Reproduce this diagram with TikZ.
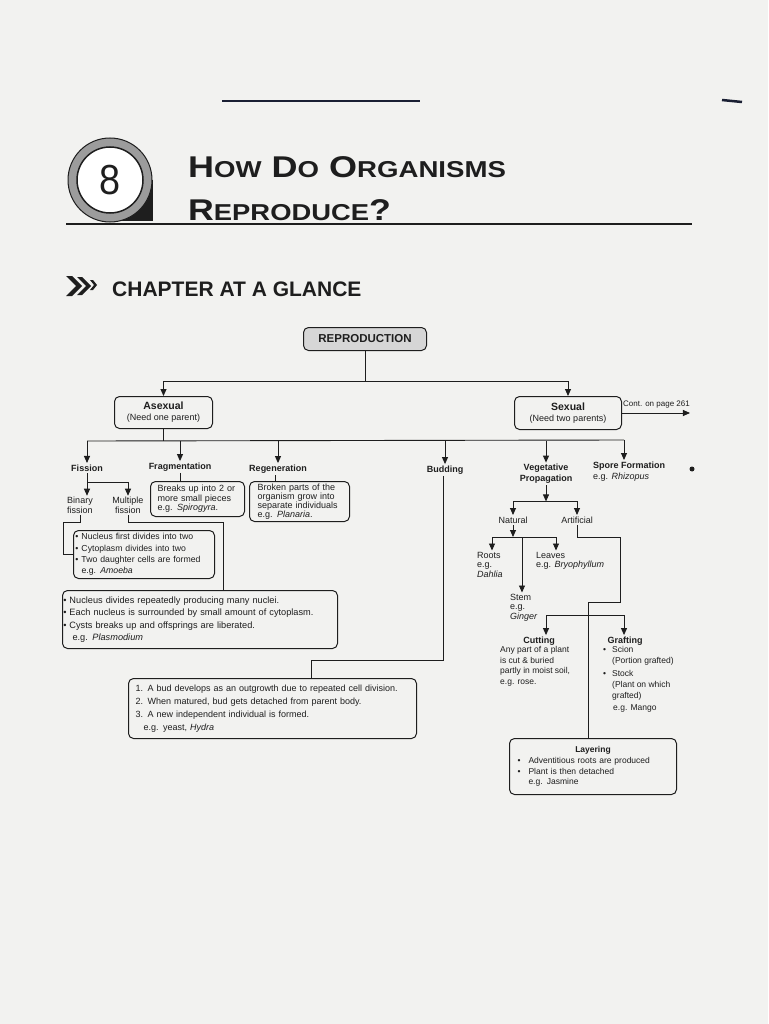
\documentclass[tikz,border=0pt]{standalone}
\usepackage{fontspec}
\setmainfont{Liberation Sans}
\usepackage{graphicx}
\usetikzlibrary{arrows.meta}
\definecolor{bg}{HTML}{F2F2F0}
\definecolor{ink}{HTML}{1E1E1E}
\definecolor{ringgray}{HTML}{9C9C9C}
\definecolor{rbox}{HTML}{D6D6D6}
\definecolor{scan}{HTML}{1A1F33}
\newcommand{\tS}[1]{{\fontsize{23}{23}\selectfont #1}}
\newcommand{\bul}[1][3pt]{\leavevmode\llap{\textbullet\hspace{#1}}}
\begin{document}
\begin{tikzpicture}[x=1pt,y=-1pt,
  every node/.style={inner sep=0pt, text=ink},
  txt/.style={font=\fontsize{9}{9.5}\selectfont, inner sep=1.5pt},
  hd/.style={font=\bfseries\fontsize{9}{11}\selectfont, inner sep=1.5pt},
  cbox/.style={draw=ink, line width=1pt, rounded corners=5pt, anchor=north west, align=left, font=\fontsize{9}{9.5}\selectfont},
  conn/.style={draw=ink, line width=0.9pt},
  arr/.style={conn, -{Triangle[length=7pt,width=6pt]}},
]
\fill[bg] (0,0) rectangle (768,1024);
\path[use as bounding box] (0,0) rectangle (768,1024);

% scan edge marks
\draw[scan, line width=2.5pt] (222,101) -- (420,101);
\draw[scan, line width=2.5pt] (722,100) -- (742,102);

% badge
\coordinate (bc) at (110,180);
\fill[ink] (bc) rectangle (153,221);
\draw[ink, line width=1pt, fill=ringgray] (bc) circle[radius=42pt];
\draw[ink, line width=1.5pt, fill=white] (bc) circle[radius=33pt];
\node[font=\fontsize{42}{42}\selectfont] (eight) at (bc) {\scalebox{0.9}[1]{8}};

% title
\node[anchor=base west, font=\bfseries\fontsize{30}{30}\selectfont] (t1) at (188,178) {\scalebox{1.2}[1]{H\tS{OW} D\tS{O} O\tS{RGANISMS}}};
\node[anchor=base west, font=\bfseries\fontsize{30}{30}\selectfont] (t2) at (188,221) {\scalebox{1.19}[1]{R\tS{EPRODUCE}?}};
\draw[ink, line width=1.2pt] (66,224) -- (692,224);

% chevrons
\fill[ink] (66,276) -- (72,276) -- (82,286) -- (72,296) -- (66,296) -- (76,286) -- cycle;
\fill[ink] (77,277) -- (82,277) -- (91,286) -- (82,295) -- (77,295) -- (86,286) -- cycle;
\fill[ink] (90,280) -- (93,280) -- (97,285) -- (93,290) -- (90,290) -- (94,285) -- cycle;
\node[anchor=base west, font=\bfseries\fontsize{21}{21}\selectfont] (cag) at (112,296) {CHAPTER AT A GLANCE};

% top of tree
\node[cbox, fill=rbox, minimum width=123pt, minimum height=23pt, align=center, font=\bfseries\fontsize{11.5}{12}\selectfont] (repro) at (303,327) {REPRODUCTION};
\node[cbox, minimum width=98pt, minimum height=32pt, align=center, font=\fontsize{9}{11}\selectfont] (asex) at (114,396) {{\bfseries\fontsize{10.5}{11}\selectfont Asexual}\\(Need one parent)};
\node[cbox, minimum width=107pt, minimum height=33pt, align=center, font=\fontsize{9}{11}\selectfont] (sex) at (514,396) {{\bfseries\fontsize{10.5}{11}\selectfont Sexual}\\(Need two parents)};
\draw[conn] (repro.south) -- ++(0,30) coordinate (rj);
\draw[conn] (asex.north |- rj) -- (sex.north |- rj);
\draw[arr] (asex.north |- rj) -- (asex.north);
\draw[arr] (sex.north |- rj) -- (sex.north);
\node[anchor=base west, font=\fontsize{8}{9}\selectfont] (cont) at (623,406) {Cont. on page 261};
\draw[arr] (sex.east) -- (sex.east -| cont.east);

% asexual branches
\draw[conn] (asex.south) -- ++(0,12) coordinate (aj);
\node[hd] (fis) at (87,468) {Fission};
\node[hd] (frg) at (180,467) {Fragmentation};
\node[hd] (reg) at (278,469) {Regeneration};
\node[hd] (bud) at (445,470) {Budding};
\node[hd, align=center] (veg) at (546,474) {Vegetative\\Propagation};
\node[hd, anchor=north west, align=left, inner sep=0pt] (spo) at (593,462) {Spore Formation\\{\mdseries e.g. \textit{Rhizopus}}};
\coordinate (sx) at (624,440);
\draw[conn] (fis.north |- aj) -- (sx);
\draw[arr] (fis.north |- aj) -- (fis.north);
\draw[arr] (frg.north |- aj) -- (frg.north);
\draw[arr] (reg.north |- aj) -- (reg.north);
\draw[arr] (bud.north |- aj) -- (bud.north);
\draw[arr] (veg.north |- aj) -- (veg.north);
\draw[arr] (sx) -- ([yshift=2pt]sx |- spo.north);
\fill[ink] (692,469) circle[radius=2.5pt];

% fission
\node[txt, align=center] (bin) at (80,505.5) {Binary\\fission};
\node[txt, align=center] (mul) at (128,505.5) {Multiple\\fission};
\draw[conn] (fis.south) -- ++(0,9) coordinate (fj);
\draw[conn] (fj) -- (fj -| mul.north);
\draw[arr] (fj) -- (fj |- bin.north);
\draw[arr] (fj -| mul.north) -- (mul.north);
\node[cbox, minimum width=141pt, minimum height=48pt, text width=125pt, inner xsep=8pt, font=\fontsize{8.7}{11.3}\selectfont] (bbox) at (73,530) {\bul Nucleus first divides into two\\ \bul Cytoplasm divides into two\\ \bul Two daughter cells are formed\\ e.g. \textit{Amoeba}};
\node[cbox, minimum width=275pt, minimum height=58pt, text width=261pt, inner xsep=7pt, font=\fontsize{9.2}{12.3}\selectfont] (pbox) at (62,590) {\bul Nucleus divides repeatedly producing many nuclei.\\ \bul Each nucleus is surrounded by small amount of cytoplasm.\\ \bul Cysts breaks up and offsprings are liberated.\\ \hspace*{3pt}e.g. \textit{Plasmodium}};
\draw[conn] (bin.south) -- ++(0,7) -| ([xshift=-10pt]bbox.west) -- (bbox.west);
\draw[conn] (mul.south) -- ++(0,7) -| ([xshift=161pt]pbox.north west);

% fragmentation, regeneration
\node[cbox, minimum width=94pt, minimum height=35pt, text width=80pt, inner xsep=7pt] (fbox) at (150,481) {Breaks up into 2 or\\more small pieces\\e.g. \textit{Spirogyra}.};
\draw[conn] (frg.south) -- (frg.south |- fbox.north);
\node[cbox, minimum width=100pt, minimum height=40pt, text width=84pt, inner xsep=8pt, font=\fontsize{9}{9}\selectfont] (rbox) at (249,481) {Broken parts of the\\organism grow into\\separate individuals\\e.g. \textit{Planaria}.};
\draw[conn] ([xshift=-3pt]reg.south) -- ([xshift=-3pt]reg.south |- rbox.north);

% budding
\node[cbox, minimum width=288pt, minimum height=60pt, text width=274pt, inner xsep=7pt, font=\fontsize{9}{13}\selectfont] (budbox) at (128,678) {1. A bud develops as an outgrowth due to repeated cell division.\\2. When matured, bud gets detached from parent body.\\3. A new independent individual is formed.\\\hspace*{8pt}e.g. yeast, \textit{Hydra}};
\draw[conn] ([xshift=-2pt]bud.south) |- ([xshift=183pt,yshift=18pt]budbox.north west) -- ([xshift=183pt]budbox.north west);

% vegetative propagation
\draw[arr] (veg.south) -- ++(0,16) coordinate (vj);
\node[txt] (nat) at (513,520) {Natural};
\node[txt] (art) at (577,520) {Artificial};
\draw[conn] (vj -| nat.north) -- (vj -| art.north);
\draw[arr] (vj -| nat.north) -- (nat.north);
\draw[arr] (vj -| art.north) -- (art.north);
\draw[arr] (nat.south) -- ++(0,12) coordinate (nj);
\node[txt, anchor=north west, align=left, inner sep=0pt] (roots) at (477,552) {Roots\\e.g.\\\textit{Dahlia}};
\node[txt, anchor=north west, align=left, inner sep=0pt] (leaves) at (536,552) {Leaves\\e.g. \textit{Bryophyllum}};
\node[txt, anchor=north west, align=left, inner sep=0pt] (stem) at (510,594) {Stem\\e.g.\\\textit{Ginger}};
\coordinate (rx) at ([xshift=15pt,yshift=1.5pt]roots.north west);
\coordinate (lx) at ([xshift=20pt,yshift=1.5pt]leaves.north west);
\coordinate (sx2) at ([xshift=12pt,yshift=1.5pt]stem.north west);
\draw[conn] (nj -| rx) -- (nj -| lx);
\draw[arr] (nj -| rx) -- (rx);
\draw[arr] (nj -| lx) -- (lx);
\draw[arr] (nj -| sx2) -- (sx2);

% artificial
\node[cbox, minimum width=167pt, minimum height=56pt, text width=129pt, inner xsep=19pt, font=\fontsize{8.5}{10.5}\selectfont] (laybox) at (509,738) {\makebox[129pt][c]{\bfseries Layering}\\[1pt] \bul[8pt]Adventitious roots are produced\\ \bul[8pt]Plant is then detached\\ e.g. Jasmine};
\draw[conn] (art.south) -- ++(0,12) -| ([xshift=111pt,yshift=136pt]laybox.north west) -| ([xshift=79pt]laybox.north west);
\node[hd] (cut) at (539,641) {Cutting};
\node[hd] (gra) at (625,641) {Grafting};
\coordinate (cj) at (546,615);
\coordinate (gj) at (624,615);
\draw[conn] (cj) -- (gj);
\draw[arr] (cj) -- (cj |- cut.north);
\draw[arr] (gj) -- (gj |- gra.north);
\node[txt, anchor=north west, align=left, inner sep=0pt, font=\fontsize{8.5}{10.7}\selectfont] (cutd) at (500,646) {Any part of a plant\\is cut \& buried\\partly in moist soil,\\e.g. rose.};
\node[txt, anchor=north west, align=left, inner sep=0pt, font=\fontsize{8.5}{11}\selectfont] (grad) at (612,646) {\bul[6pt]Scion\\(Portion grafted)\\[2pt] \bul[6pt]Stock\\(Plant on which\\grafted)\\[1pt] \hspace*{1pt}e.g. Mango};
\end{tikzpicture}
\end{document}
